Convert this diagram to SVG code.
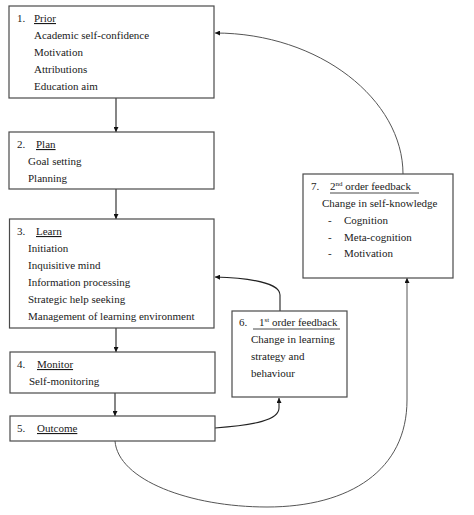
<svg xmlns="http://www.w3.org/2000/svg" width="474" height="515" viewBox="0 0 474 515">
<style>
.box{fill:#fff;stroke:#4a4a4a;stroke-width:1.2}
text{font-family:"Liberation Serif","Times New Roman",serif;font-size:11px;fill:#1a1a1a}
.u{text-decoration:underline}
.sup{font-size:7px}
.ln{fill:none;stroke:#222;stroke-width:1.1}
.cv{fill:none;stroke:#555;stroke-width:1}
.ul{stroke:#1a1a1a;stroke-width:0.8}
</style>
<defs>
<marker id="ah" viewBox="0 0 10 10" refX="10" refY="5" markerWidth="5" markerHeight="5" orient="auto" markerUnits="userSpaceOnUse">
<path d="M0,0 L10,5 L0,10 z" fill="#111"/>
</marker>
</defs>
<rect width="474" height="515" fill="#fff"/>
<g id="connectors">
<line class="ln" x1="116" y1="98" x2="116" y2="132" marker-end="url(#ah)"/>
<line class="ln" x1="116" y1="189" x2="116" y2="219" marker-end="url(#ah)"/>
<line class="ln" x1="116" y1="328" x2="116" y2="352" marker-end="url(#ah)"/>
<line class="ln" x1="115" y1="393" x2="115" y2="416" marker-end="url(#ah)"/>
<path class="ln" d="M215,428 C255,425 279,420 279,408 L279,398" marker-end="url(#ah)"/>
<path class="ln" d="M280,311 L280,295 C280,283 250,278 215,277" marker-end="url(#ah)"/>
<path class="cv" d="M115,441 C118,480 190,507 267,507 C350,507 407,470 407,400 L407,278" marker-end="url(#ah)"/>
<path class="cv" d="M403,174 C403,100 320,33 215,33" marker-end="url(#ah)"/>
</g>
<g id="n1">
<rect class="box" x="9" y="6" width="205" height="92"/>
<text x="17" y="22">1.</text>
<text x="34" y="22" class="u">Prior</text>
<text x="34" y="39">Academic self-confidence</text>
<text x="34" y="56">Motivation</text>
<text x="34" y="73">Attributions</text>
<text x="34" y="90">Education aim</text>
</g>
<g id="n2">
<rect class="box" x="9" y="132" width="205" height="57"/>
<text x="17" y="148">2.</text>
<text x="36" y="148" class="u">Plan</text>
<text x="28" y="165">Goal setting</text>
<text x="28" y="182">Planning</text>
</g>
<g id="n3">
<rect class="box" x="9.5" y="219" width="204.5" height="109"/>
<text x="17" y="235">3.</text>
<text x="36" y="235" class="u">Learn</text>
<text x="28" y="252">Initiation</text>
<text x="28" y="269">Inquisitive mind</text>
<text x="28" y="286">Information processing</text>
<text x="28" y="303">Strategic help seeking</text>
<text x="28" y="320">Management of learning environment</text>
</g>
<g id="n4">
<rect class="box" x="10" y="352" width="205" height="41"/>
<text x="17" y="368">4.</text>
<text x="37" y="368" class="u">Monitor</text>
<text x="29" y="385">Self-monitoring</text>
</g>
<g id="n5">
<rect class="box" x="10" y="416" width="205" height="25"/>
<text x="17" y="432">5.</text>
<text x="37" y="432" class="u">Outcome</text>
</g>
<g id="n6">
<rect class="box" x="232" y="311" width="115" height="86"/>
<text x="239" y="326">6.</text>
<text x="259" y="326">1<tspan class="sup" dy="-4">st</tspan><tspan dy="4"> order feedback</tspan></text>
<line class="ul" x1="253" y1="329" x2="340" y2="329"/>
<text x="251" y="343">Change in learning</text>
<text x="251" y="360">strategy and</text>
<text x="251" y="377">behaviour</text>
</g>
<g id="n7">
<rect class="box" x="303" y="174" width="150" height="104"/>
<text x="311" y="190">7.</text>
<text x="330" y="190">2<tspan class="sup" dy="-4">nd</tspan><tspan dy="4"> order feedback</tspan></text>
<line class="ul" x1="330" y1="193" x2="419" y2="193"/>
<text x="322" y="207">Change in self-knowledge</text>
<text x="328" y="224">-</text>
<text x="344" y="224">Cognition</text>
<text x="328" y="241">-</text>
<text x="344" y="241">Meta-cognition</text>
<text x="328" y="257">-</text>
<text x="344" y="257">Motivation</text>
</g>
</svg>
